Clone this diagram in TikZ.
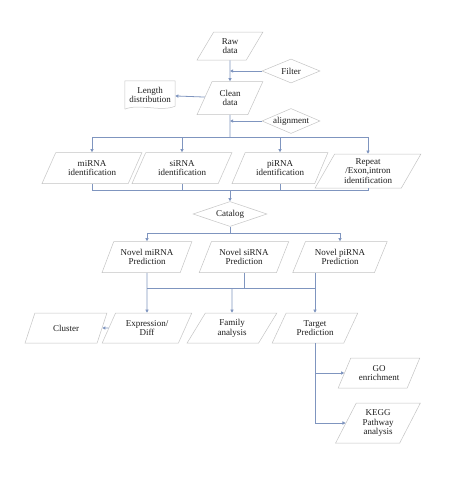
\documentclass[tikz,border=0pt]{standalone}
\usepackage{fontspec}
\setmainfont{Liberation Serif}
\usepackage{tikz}
\usetikzlibrary{arrows.meta,positioning,calc,shapes.geometric}

\definecolor{flowblue}{HTML}{7F95BF}
\definecolor{boxgray}{HTML}{C4C4C4}
\definecolor{inkgray}{HTML}{1E1E1E}

\begin{document}
\begin{tikzpicture}[
    x=1pt, y=-1pt,
    every node/.style={font=\fontsize{9}{9.8}\selectfont, text=inkgray, align=center},
    io/.style={trapezium, trapezium left angle=62, trapezium right angle=118,
        trapezium stretches=true, draw=boxgray, line width=0.5pt, fill=white,
        inner sep=1pt, minimum height=30pt},
    choice/.style={diamond, aspect=2.6, draw=boxgray, line width=0.5pt, fill=white,
        inner sep=0pt, minimum width=58pt, minimum height=24pt},
    docbox/.style={rectangle, inner sep=0pt, minimum width=50pt, minimum height=28pt},
    flow/.style={draw=flowblue, line width=0.8pt},
    arr/.style={flow, -{Triangle[length=3.2pt, width=3.2pt]}},
]
    \useasboundingbox (0,0) rectangle (474,479);

    % preprocessing
    \node[io, minimum width=66pt, minimum height=28pt] (raw) at (230,46) {Raw\\data};
    \node[choice] (filter) at (291,71) {Filter};
    \node[io, minimum width=66pt, minimum height=33pt] (clean) at (230,98) {Clean\\data};
    \node[docbox] (len) at (150,95) {Length\\distribution};
    \node[choice, minimum height=25pt] (align) at (291,121) {alignment};

    \draw[boxgray, line width=0.5pt] (len.south west) -- (len.north west) -- (len.north east)
        -- ([yshift=3pt]len.south east)
        .. controls +(-14pt,-6pt) and +(14pt,6pt) .. (len.south west);

    % identification
    \node[io, minimum width=100pt, minimum height=31pt] (mi) at (92,168) {miRNA\\identification};
    \node[io, minimum width=100pt, minimum height=31pt] (si) at (182,168) {siRNA\\identification};
    \node[io, minimum width=96pt, minimum height=31pt] (pi) at (280,168) {piRNA\\identification};
    \node[io, minimum width=106pt, minimum height=34pt] (rep) at (368,171) {Repeat\\/Exon,intron\\identification};

    \node[choice, minimum width=74pt, minimum height=25pt] (catalog) at (230,214) {Catalog};

    % prediction
    \node[io, minimum width=90pt, minimum height=31pt] (nmi) at (147,257) {Novel miRNA\\Prediction};
    \node[io, minimum width=90pt, minimum height=31pt] (nsi) at (244,257) {Novel siRNA\\Prediction};
    \node[io, minimum width=95pt, minimum height=31pt] (npi) at (340,257) {Novel piRNA\\Prediction};

    % analysis
    \node[io, minimum width=82pt] (cluster) at (66,328) {Cluster};
    \node[io, minimum width=90pt] (expr) at (147,328) {Expression/\\Diff};
    \node[io, minimum width=90pt] (fam) at (232,328) {Family\\analysis};
    \node[io, minimum width=86pt] (target) at (315,328) {Target\\Prediction};
    \node[io, minimum width=82pt] (go) at (379,373) {GO\\enrichment};
    \node[io, minimum width=85pt, minimum height=40pt] (kegg) at (378,423) {KEGG\\Pathway\\analysis};

    \coordinate (split) at (230,137);
    \coordinate (join) at (230,190);
    \coordinate (fan) at (230,233);
    \coordinate (merge) at (232,288);

    \draw[arr] (raw) -- (clean);
    \draw[arr] (filter.west) -- (filter.west -| raw.south);
    \draw[arr] (clean) -- (len);
    \draw[arr] (align.west) -- (align.west -| clean.south);

    \draw[flow] (clean.south) -- (split);
    \draw[flow] (split -| mi.north) -- (split -| rep.north);
    \foreach \n in {mi,si,pi,rep}
        \draw[arr] (split -| \n.north) -- (\n.north);

    \draw[flow] (mi.south) -- (join -| mi.south) -- (join -| rep.south) -- (rep.south);
    \draw[flow] (si.south) -- (join -| si.south);
    \draw[flow] (pi.south) -- (join -| pi.south);
    \draw[arr] (join) -- (catalog.north);

    \draw[flow] (catalog.south) -- (fan);
    \draw[flow] (fan -| nmi.north) -- (fan -| npi.north);
    \draw[arr] (fan -| nmi.north) -- (nmi.north);
    \draw[arr] (fan -| npi.north) -- (npi.north);

    \draw[arr] (nmi.south) -- (expr.north);
    \draw[flow] (nsi.south) -- (merge -| nsi.south);
    \draw[flow] (merge -| expr.north) -- (merge -| target.north);
    \draw[arr] (merge) -- (fam.north);
    \draw[arr] (target.north |- npi.south) -- (target.north);

    \draw[arr] (expr.west) -- (cluster.east);
    \draw[arr] (target.south) |- (go.west);
    \draw[arr] (target.south) |- (kegg.west);
\end{tikzpicture}
\end{document}
